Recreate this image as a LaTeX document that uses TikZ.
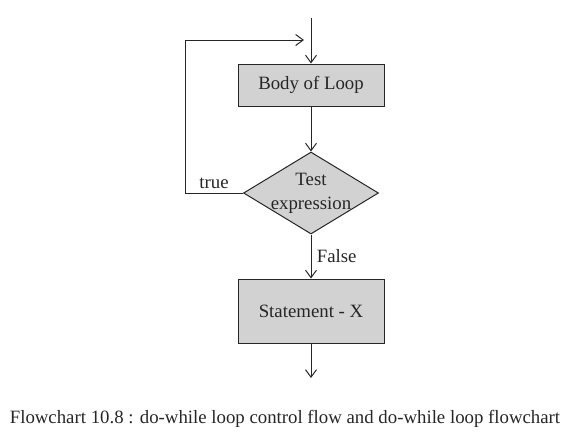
\documentclass[tikz,border=0pt]{standalone}
\usepackage{fontspec}
\setmainfont{Liberation Serif}
\usetikzlibrary{shapes.geometric,arrows.meta}
\begin{document}
\begin{tikzpicture}[x=1pt,y=-1pt,>={Straight Barb[length=7.5pt,width=11pt]},line width=1pt,
  every node/.style={font=\fontsize{18.8}{24}\selectfont,text=black!85},
  process/.style={draw=black!85,fill=gray!35,rectangle,minimum width=146pt},
  decision/.style={draw=black!85,fill=gray!35,diamond,aspect=1.65,inner sep=-6pt,minimum width=135pt,minimum height=82pt,align=center}]
\useasboundingbox (0,0) rectangle (567,437);
\coordinate (in) at (311,18);
\coordinate (back) at (304,40);
\coordinate (out) at (311,378);
\node[process,minimum height=42pt] (body) at (311,85) {Body of Loop};
\node[decision] (test) at (311,193) {Test\\expression};
\node[process,minimum height=64pt] (stmt) at (311,311) {Statement - X};
\draw[->,black!85] (in) -- (body.north);
\draw[->,black!85] (body.south) -- (test.north);
\draw[->,black!85] (test.west) -- node[above] {true} ++(-58,0) |- (back);
\draw[->,black!85] (test.south) -- node[right,xshift=2pt] {False} (stmt.north);
\draw[->,black!85] (stmt.south) -- (out);
\node (caption) at (285,419) {Flowchart 10.8 : do-while loop control flow and do-while loop flowchart};
\end{tikzpicture}
\end{document}
